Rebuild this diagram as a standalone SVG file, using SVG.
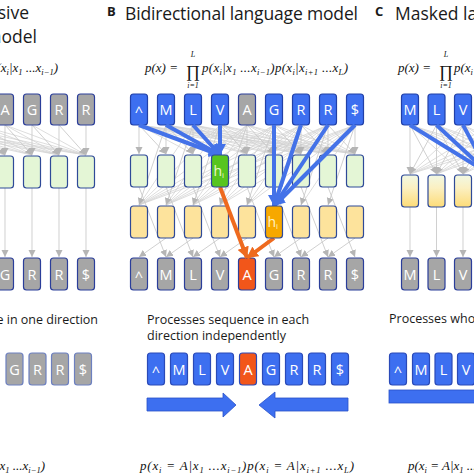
<svg xmlns="http://www.w3.org/2000/svg" width="474" height="474" viewBox="0 0 474 474">
<defs>
<style>
.g{stroke:#d2d2d2;stroke-width:0.75;fill:none}
.ga{stroke:#c8c8c8;stroke-width:0.85;fill:none;marker-end:url(#ag)}
.bl{stroke:#4472e8;stroke-width:4;fill:none;marker-end:url(#ab)}
.bln{stroke:#4472e8;stroke-width:4;fill:none}
.or{stroke:#ee6a1f;stroke-width:4;fill:none;marker-end:url(#ao)}
.tb{fill:#3d6ff0;stroke:#2140a8;stroke-width:1.2}
.tg{fill:#a6a6a6;stroke:#2b3e9a;stroke-width:1.2}
.tgl{fill:#a6a6a6;stroke:#6d80c0;stroke-width:1.2}
.tbb{fill:#3d6ff0;stroke:#2a4ab8;stroke-width:1.2}
.h1{fill:#e4f6d6;stroke:#2f4a98;stroke-width:1.2}
.h2{fill:#fde39c;stroke:#2f4a98;stroke-width:1.2}
.hc{fill:url(#yg);stroke:#2f4a98;stroke-width:1.2}
.t{font-family:'Open Sans',sans-serif;font-size:14.5px;fill:#fff;text-anchor:middle}
.ti{font-family:'Open Sans',sans-serif;font-size:17.5px;fill:#1a1a1a}
.tl{font-family:'Open Sans',sans-serif;font-size:13px;font-weight:bold;fill:#1a1a1a}
.tx{font-family:'Open Sans',sans-serif;font-size:12.5px;fill:#1a1a1a}
.f{font-family:'Liberation Serif',serif;font-size:13px;font-style:italic;fill:#111}
.s{font-size:8.5px}
.pr{font-family:'Liberation Serif',serif;font-size:17px;fill:#111;text-anchor:middle}
.lim{font-family:'Liberation Serif',serif;font-size:8px;font-style:italic;fill:#111;text-anchor:middle}
.hl{font-family:'Open Sans',sans-serif;font-size:14px}
</style>
<marker id="ag" markerUnits="userSpaceOnUse" markerWidth="8" markerHeight="8" refX="7" refY="4" orient="auto"><path d="M0,0.5 L7,4 L0,7.5z" fill="#b5b5b5"/></marker>
<marker id="ab" markerUnits="userSpaceOnUse" markerWidth="12" markerHeight="12" refX="11" refY="6" orient="auto"><path d="M0,0 L11,6 L0,12z" fill="#4472e8"/></marker>
<marker id="ao" markerUnits="userSpaceOnUse" markerWidth="12" markerHeight="12" refX="11" refY="6" orient="auto"><path d="M0,0 L11,6 L0,12z" fill="#ee6a1f"/></marker>
<linearGradient id="yg" x1="0" y1="0" x2="0" y2="1"><stop offset="0" stop-color="#f1f8e4"/><stop offset="0.4" stop-color="#fbf0c2"/><stop offset="1" stop-color="#fddc78"/></linearGradient>
</defs>
<rect width="474" height="474" fill="#fff"/>

<!-- Titles and texts -->
<text class="ti" x="29" y="19" text-anchor="end">Autoregressive</text>
<text class="ti" x="37" y="43" text-anchor="end">language model</text>
<text class="tl" x="107" y="16">B</text>
<text class="ti" x="125" y="19.5" textLength="233">Bidirectional language model</text>
<text class="tl" x="375" y="16">C</text>
<text class="ti" x="395" y="19.5">Masked language model</text>

<text class="tx" x="98" y="324" text-anchor="end">Processes sequence in one direction</text>
<text class="tx" x="147" y="324">Processes sequence in each</text>
<text class="tx" x="147" y="340">direction independently</text>
<text class="tx" x="389" y="323">Processes whole sequence</text>

<!-- Formulas -->
<text class="f" x="58" y="72" text-anchor="end">p(x<tspan class="s" dy="3">i</tspan><tspan dy="-3">|x</tspan><tspan class="s" dy="3">1</tspan><tspan dy="-3"> ...x</tspan><tspan class="s" dy="3">i−1</tspan><tspan dy="-3">)</tspan></text>

<text class="f" x="145" y="72">p(x) =</text>
<text class="pr" x="193" y="77">∏</text>
<text class="lim" x="193" y="57">L</text>
<text class="lim" x="193" y="88">i=1</text>
<text class="f" x="202" y="72" textLength="146">p(x<tspan class="s" dy="3">i</tspan><tspan dy="-3">|x</tspan><tspan class="s" dy="3">1</tspan><tspan dy="-3"> ...x</tspan><tspan class="s" dy="3">i−1</tspan><tspan dy="-3">)p(x</tspan><tspan class="s" dy="3">i</tspan><tspan dy="-3">|x</tspan><tspan class="s" dy="3">i+1</tspan><tspan dy="-3"> ...x</tspan><tspan class="s" dy="3">L</tspan><tspan dy="-3">)</tspan></text>

<text class="f" x="398" y="72">p(x) =</text>
<text class="pr" x="446" y="77">∏</text>
<text class="lim" x="446" y="57">L</text>
<text class="lim" x="446" y="88">i=1</text>
<text class="f" x="454" y="72">p(x<tspan class="s" dy="3">i</tspan><tspan dy="-3">|x</tspan><tspan class="s" dy="3">1</tspan><tspan dy="-3"> ...x</tspan><tspan class="s" dy="3">i−1</tspan><tspan dy="-3">, x</tspan><tspan class="s" dy="3">i+1</tspan><tspan dy="-3"> ...x</tspan><tspan class="s" dy="3">L</tspan><tspan dy="-3">)</tspan></text>

<text class="f" x="45" y="470" text-anchor="end">p(x<tspan class="s" dy="3">i</tspan><tspan dy="-3"> = A|x</tspan><tspan class="s" dy="3">1</tspan><tspan dy="-3"> ...x</tspan><tspan class="s" dy="3">i−1</tspan><tspan dy="-3">)</tspan></text>
<text class="f" x="140" y="470" textLength="214">p(x<tspan class="s" dy="3">i</tspan><tspan dy="-3"> = A|x</tspan><tspan class="s" dy="3">1</tspan><tspan dy="-3"> ...x</tspan><tspan class="s" dy="3">i−1</tspan><tspan dy="-3">)p(x</tspan><tspan class="s" dy="3">i</tspan><tspan dy="-3"> = A|x</tspan><tspan class="s" dy="3">i+1</tspan><tspan dy="-3"> ...x</tspan><tspan class="s" dy="3">L</tspan><tspan dy="-3">)</tspan></text>
<text class="f" x="408" y="470">p(x<tspan class="s" dy="3">i</tspan><tspan dy="-3"> = A|x</tspan><tspan class="s" dy="3">1</tspan><tspan dy="-3"> ...x</tspan><tspan class="s" dy="3">i−1</tspan><tspan dy="-3">, x</tspan><tspan class="s" dy="3">i+1</tspan><tspan dy="-3"> ...x</tspan><tspan class="s" dy="3">L</tspan><tspan dy="-3">)</tspan></text>

<!-- Gray connectors -->
<g id="connectors">
<path class="g" d="M-103 125L5 155M-76 125L5 155M-49 125L5 155M-103 125L32 155M-76 125L32 155M-49 125L32 155M-22 125L32 155M-103 125L59 155M-76 125L59 155M-49 125L59 155M-22 125L59 155M5 125L59 155M-103 125L86 155M-76 125L86 155M-49 125L86 155M-22 125L86 155M5 125L86 155M32 125L86 155"/>
<line class="ga" x1="5" y1="125" x2="5" y2="155"/><line class="ga" x1="32" y1="125" x2="32" y2="155"/><line class="ga" x1="59" y1="125" x2="59" y2="155"/><line class="ga" x1="86" y1="125" x2="86" y2="155"/>
<line class="ga" x1="-22" y1="125" x2="5" y2="155"/><line class="ga" x1="5" y1="125" x2="32" y2="155"/><line class="ga" x1="32" y1="125" x2="59" y2="155"/><line class="ga" x1="59" y1="125" x2="86" y2="155"/>
<line class="ga" x1="5" y1="188" x2="5" y2="257"/><line class="ga" x1="32" y1="188" x2="32" y2="257"/><line class="ga" x1="59" y1="188" x2="59" y2="257"/><line class="ga" x1="86" y1="188" x2="86" y2="257"/>

<path class="g" d="M139 125L193 154M139 125L220 154M166 125L220 154M139 125L247 154M166 125L247 154M193 125L247 154M139 125L274 154M166 125L274 154M193 125L274 154M220 125L274 154M139 125L301 154M166 125L301 154M193 125L301 154M220 125L301 154M247 125L301 154M139 125L328 154M166 125L328 154M193 125L328 154M220 125L328 154M247 125L328 154M274 125L328 154M139 125L355 154M166 125L355 154M193 125L355 154M220 125L355 154M247 125L355 154M274 125L355 154M301 125L355 154"/>
<path class="g" d="M193 125L139 205M220 125L139 205M247 125L139 205M274 125L139 205M301 125L139 205M328 125L139 205M355 125L139 205M220 125L166 205M247 125L166 205M274 125L166 205M301 125L166 205M328 125L166 205M355 125L166 205M247 125L193 205M274 125L193 205M301 125L193 205M328 125L193 205M355 125L193 205M274 125L220 205M301 125L220 205M328 125L220 205M355 125L220 205M301 125L247 205M328 125L247 205M355 125L247 205M328 125L274 205M355 125L274 205M355 125L301 205"/>
<line class="ga" x1="139" y1="125" x2="139" y2="154"/><line class="ga" x1="166" y1="125" x2="166" y2="154"/><line class="ga" x1="193" y1="125" x2="193" y2="154"/><line class="ga" x1="220" y1="125" x2="220" y2="154"/><line class="ga" x1="247" y1="125" x2="247" y2="154"/><line class="ga" x1="274" y1="125" x2="274" y2="154"/><line class="ga" x1="301" y1="125" x2="301" y2="154"/><line class="ga" x1="328" y1="125" x2="328" y2="154"/><line class="ga" x1="355" y1="125" x2="355" y2="154"/>
<line class="ga" x1="139" y1="125" x2="166" y2="154"/><line class="ga" x1="166" y1="125" x2="193" y2="154"/><line class="ga" x1="193" y1="125" x2="220" y2="154"/><line class="ga" x1="220" y1="125" x2="247" y2="154"/><line class="ga" x1="247" y1="125" x2="274" y2="154"/><line class="ga" x1="274" y1="125" x2="301" y2="154"/><line class="ga" x1="301" y1="125" x2="328" y2="154"/><line class="ga" x1="328" y1="125" x2="355" y2="154"/>
<line class="ga" x1="166" y1="125" x2="139" y2="205"/><line class="ga" x1="193" y1="125" x2="166" y2="205"/><line class="ga" x1="220" y1="125" x2="193" y2="205"/><line class="ga" x1="247" y1="125" x2="220" y2="205"/><line class="ga" x1="274" y1="125" x2="247" y2="205"/><line class="ga" x1="301" y1="125" x2="274" y2="205"/><line class="ga" x1="328" y1="125" x2="301" y2="205"/><line class="ga" x1="355" y1="125" x2="328" y2="205"/>
<line class="ga" x1="139" y1="187" x2="166" y2="257"/><line class="ga" x1="166" y1="187" x2="193" y2="257"/><line class="ga" x1="193" y1="187" x2="220" y2="257"/><line class="ga" x1="220" y1="187" x2="247" y2="257"/><line class="ga" x1="247" y1="187" x2="274" y2="257"/><line class="ga" x1="274" y1="187" x2="301" y2="257"/><line class="ga" x1="301" y1="187" x2="328" y2="257"/><line class="ga" x1="328" y1="187" x2="355" y2="257"/>
<line class="ga" x1="166" y1="238" x2="139" y2="257"/><line class="ga" x1="193" y1="238" x2="166" y2="257"/><line class="ga" x1="220" y1="238" x2="193" y2="257"/><line class="ga" x1="247" y1="238" x2="220" y2="257"/><line class="ga" x1="274" y1="238" x2="247" y2="257"/><line class="ga" x1="301" y1="238" x2="274" y2="257"/><line class="ga" x1="328" y1="238" x2="301" y2="257"/><line class="ga" x1="355" y1="238" x2="328" y2="257"/>

<path class="g" d="M463 125L410 174M489.5 125L410 174M516 125L410 174M542.5 125L410 174M569 125L410 174M489.5 125L436.5 174M516 125L436.5 174M542.5 125L436.5 174M569 125L436.5 174M410 125L463 174M516 125L463 174M542.5 125L463 174M569 125L463 174M410 125L516 174M410 125L542.5 174M410 125L569 174M436.5 125L516 174M436.5 125L542.5 174M436.5 125L569 174M463 125L516 174M463 125L542.5 174M463 125L569 174"/>
<line class="ga" x1="410" y1="125" x2="410" y2="174"/><line class="ga" x1="436.5" y1="125" x2="436.5" y2="174"/><line class="ga" x1="463" y1="125" x2="463" y2="174"/>
<line class="ga" x1="436.5" y1="125" x2="410" y2="174"/><line class="ga" x1="410" y1="125" x2="436.5" y2="174"/><line class="ga" x1="463" y1="125" x2="436.5" y2="174"/><line class="ga" x1="436.5" y1="125" x2="463" y2="174"/><line class="ga" x1="489.5" y1="125" x2="463" y2="174"/>
<line class="ga" x1="410" y1="207" x2="410" y2="257"/><line class="ga" x1="436.5" y1="207" x2="436.5" y2="257"/><line class="ga" x1="463" y1="207" x2="463" y2="257"/>
</g>

<!-- Panel A nodes -->
<g id="a-in-A"><rect class="tg" x="-3.5" y="94" width="17" height="31" rx="3"/><text class="t" x="5" y="115">A</text></g>
<g id="a-in-G"><rect class="tg" x="23.5" y="94" width="17" height="31" rx="3"/><text class="t" x="32" y="115">G</text></g>
<g id="a-in-R1"><rect class="tg" x="50.5" y="94" width="17" height="31" rx="3"/><text class="t" x="59" y="115">R</text></g>
<g id="a-in-R2"><rect class="tg" x="77.5" y="94" width="17" height="31" rx="3"/><text class="t" x="86" y="115">R</text></g>
<g id="a-h1"><rect class="h1" x="-3.5" y="156" width="17" height="32" rx="3"/></g>
<g id="a-h2"><rect class="h1" x="23.5" y="156" width="17" height="32" rx="3"/></g>
<g id="a-h3"><rect class="h1" x="50.5" y="156" width="17" height="32" rx="3"/></g>
<g id="a-h4"><rect class="h1" x="77.5" y="156" width="17" height="32" rx="3"/></g>
<g id="a-out-G"><rect class="tg" x="-3.5" y="258" width="17" height="32" rx="3"/><text class="t" x="5" y="279.5">G</text></g>
<g id="a-out-R1"><rect class="tg" x="23.5" y="258" width="17" height="32" rx="3"/><text class="t" x="32" y="279.5">R</text></g>
<g id="a-out-R2"><rect class="tg" x="50.5" y="258" width="17" height="32" rx="3"/><text class="t" x="59" y="279.5">R</text></g>
<g id="a-out-end"><rect class="tg" x="77.5" y="258" width="17" height="32" rx="3"/><text class="t" x="86" y="279.5">$</text></g>
<g id="a-seq-G"><rect class="tgl" x="6" y="353" width="17" height="32" rx="3"/><text class="t" x="14.5" y="374.5">G</text></g>
<g id="a-seq-R1"><rect class="tgl" x="29" y="353" width="17" height="32" rx="3"/><text class="t" x="37.5" y="374.5">R</text></g>
<g id="a-seq-R2"><rect class="tgl" x="51.5" y="353" width="17" height="32" rx="3"/><text class="t" x="60" y="374.5">R</text></g>
<g id="a-seq-end"><rect class="tgl" x="74.5" y="353" width="17" height="32" rx="3"/><text class="t" x="83" y="374.5">$</text></g>

<!-- Panel B nodes: inputs -->
<g id="b-in-start"><rect class="tb" x="130.5" y="94" width="17" height="31" rx="3"/><text class="t" x="139" y="117">^</text></g>
<g id="b-in-M"><rect class="tb" x="157.5" y="94" width="17" height="31" rx="3"/><text class="t" x="166" y="115">M</text></g>
<g id="b-in-L"><rect class="tb" x="184.5" y="94" width="17" height="31" rx="3"/><text class="t" x="193" y="115">L</text></g>
<g id="b-in-V"><rect class="tb" x="211.5" y="94" width="17" height="31" rx="3"/><text class="t" x="220" y="115">V</text></g>
<g id="b-in-A"><rect class="tg" x="238.5" y="94" width="17" height="31" rx="3"/><text class="t" x="247" y="115">A</text></g>
<g id="b-in-G"><rect class="tb" x="265.5" y="94" width="17" height="31" rx="3"/><text class="t" x="274" y="115">G</text></g>
<g id="b-in-R1"><rect class="tb" x="292.5" y="94" width="17" height="31" rx="3"/><text class="t" x="301" y="115">R</text></g>
<g id="b-in-R2"><rect class="tb" x="319.5" y="94" width="17" height="31" rx="3"/><text class="t" x="328" y="115">R</text></g>
<g id="b-in-end"><rect class="tb" x="346.5" y="94" width="17" height="31" rx="3"/><text class="t" x="355" y="115">$</text></g>
<!-- forward hidden -->
<g id="b-f1"><rect class="h1" x="130.5" y="155" width="17" height="32" rx="3"/></g>
<g id="b-f2"><rect class="h1" x="157.5" y="155" width="17" height="32" rx="3"/></g>
<g id="b-f3"><rect class="h1" x="184.5" y="155" width="17" height="32" rx="3"/></g>
<g id="b-f5"><rect class="h1" x="238.5" y="155" width="17" height="32" rx="3"/></g>
<g id="b-f6"><rect class="h1" x="265.5" y="155" width="17" height="32" rx="3"/></g>
<g id="b-f7"><rect class="h1" x="292.5" y="155" width="17" height="32" rx="3"/></g>
<g id="b-f8"><rect class="h1" x="319.5" y="155" width="17" height="32" rx="3"/></g>
<g id="b-f9"><rect class="h1" x="346.5" y="155" width="17" height="32" rx="3"/></g>
<!-- backward hidden -->
<g id="b-b1"><rect class="h2" x="130.5" y="206" width="17" height="32" rx="3"/></g>
<g id="b-b2"><rect class="h2" x="157.5" y="206" width="17" height="32" rx="3"/></g>
<g id="b-b3"><rect class="h2" x="184.5" y="206" width="17" height="32" rx="3"/></g>
<g id="b-b4"><rect class="h2" x="211.5" y="206" width="17" height="32" rx="3"/></g>
<g id="b-b5"><rect class="h2" x="238.5" y="206" width="17" height="32" rx="3"/></g>
<g id="b-b7"><rect class="h2" x="292.5" y="206" width="17" height="32" rx="3"/></g>
<g id="b-b8"><rect class="h2" x="319.5" y="206" width="17" height="32" rx="3"/></g>
<g id="b-b9"><rect class="h2" x="346.5" y="206" width="17" height="32" rx="3"/></g>
<!-- outputs -->
<g id="b-out-start"><rect class="tg" x="130.5" y="258" width="17" height="32" rx="3"/><text class="t" x="139" y="281.5">^</text></g>
<g id="b-out-M"><rect class="tg" x="157.5" y="258" width="17" height="32" rx="3"/><text class="t" x="166" y="279.5">M</text></g>
<g id="b-out-L"><rect class="tg" x="184.5" y="258" width="17" height="32" rx="3"/><text class="t" x="193" y="279.5">L</text></g>
<g id="b-out-V"><rect class="tg" x="211.5" y="258" width="17" height="32" rx="3"/><text class="t" x="220" y="279.5">V</text></g>
<g id="b-out-A"><rect x="238.5" y="258" width="17" height="32" rx="3" fill="#f2561a" stroke="#2b3e9a" stroke-width="1.2"/><text class="t" x="247" y="279.5">A</text></g>
<g id="b-out-G"><rect class="tg" x="265.5" y="258" width="17" height="32" rx="3"/><text class="t" x="274" y="279.5">G</text></g>
<g id="b-out-R1"><rect class="tg" x="292.5" y="258" width="17" height="32" rx="3"/><text class="t" x="301" y="279.5">R</text></g>
<g id="b-out-R2"><rect class="tg" x="319.5" y="258" width="17" height="32" rx="3"/><text class="t" x="328" y="279.5">R</text></g>
<g id="b-out-end"><rect class="tg" x="346.5" y="258" width="17" height="32" rx="3"/><text class="t" x="355" y="279.5">$</text></g>
<!-- bottom sequence B -->
<g id="b-seq-start"><rect class="tbb" x="147.5" y="353" width="17" height="32" rx="3"/><text class="t" x="156" y="376.5">^</text></g>
<g id="b-seq-M"><rect class="tbb" x="170.5" y="353" width="17" height="32" rx="3"/><text class="t" x="179" y="374.5">M</text></g>
<g id="b-seq-L"><rect class="tbb" x="193.5" y="353" width="17" height="32" rx="3"/><text class="t" x="202" y="374.5">L</text></g>
<g id="b-seq-V"><rect class="tbb" x="216.5" y="353" width="17" height="32" rx="3"/><text class="t" x="225" y="374.5">V</text></g>
<g id="b-seq-A"><rect x="239.5" y="353" width="17" height="32" rx="3" fill="#f2561a" stroke="#2a4ab8" stroke-width="1.2"/><text class="t" x="248" y="374.5">A</text></g>
<g id="b-seq-G"><rect class="tbb" x="262.5" y="353" width="17" height="32" rx="3"/><text class="t" x="271" y="374.5">G</text></g>
<g id="b-seq-R1"><rect class="tbb" x="285.5" y="353" width="17" height="32" rx="3"/><text class="t" x="294" y="374.5">R</text></g>
<g id="b-seq-R2"><rect class="tbb" x="308.5" y="353" width="17" height="32" rx="3"/><text class="t" x="317" y="374.5">R</text></g>
<g id="b-seq-end"><rect class="tbb" x="331.5" y="353" width="17" height="32" rx="3"/><text class="t" x="340" y="374.5">$</text></g>
<g id="b-arrow-right"><polygon points="147,398 223,398 223,393 236,405 223,417 223,411 147,411" fill="#3d6ff0" stroke="#2a52c8" stroke-width="0.8"/></g>
<g id="b-arrow-left"><polygon points="259,405 275,392 275,398 348,398 348,411 275,411 275,418" fill="#3d6ff0" stroke="#2a52c8" stroke-width="0.8"/></g>

<!-- Panel C nodes -->
<g id="c-in-M"><rect class="tb" x="401.5" y="94" width="17" height="31" rx="3"/><text class="t" x="410" y="115">M</text></g>
<g id="c-in-L"><rect class="tb" x="428" y="94" width="17" height="31" rx="3"/><text class="t" x="436.5" y="115">L</text></g>
<g id="c-in-V"><rect class="tb" x="454.5" y="94" width="17" height="31" rx="3"/><text class="t" x="463" y="115">V</text></g>
<g id="c-h1"><rect class="hc" x="401.5" y="175" width="17" height="32" rx="3"/></g>
<g id="c-h2"><rect class="hc" x="428" y="175" width="17" height="32" rx="3"/></g>
<g id="c-h3"><rect class="hc" x="454.5" y="175" width="17" height="32" rx="3"/></g>
<g id="c-out-M"><rect class="tg" x="401.5" y="258" width="17" height="32" rx="3"/><text class="t" x="410" y="279.5">M</text></g>
<g id="c-out-L"><rect class="tg" x="428" y="258" width="17" height="32" rx="3"/><text class="t" x="436.5" y="279.5">L</text></g>
<g id="c-out-V"><rect class="tg" x="454.5" y="258" width="17" height="32" rx="3"/><text class="t" x="463" y="279.5">V</text></g>
<g id="c-seq-start"><rect class="tbb" x="389.5" y="353" width="17" height="32" rx="3"/><text class="t" x="398" y="376.5">^</text></g>
<g id="c-seq-M"><rect class="tbb" x="412.5" y="353" width="17" height="32" rx="3"/><text class="t" x="421" y="374.5">M</text></g>
<g id="c-seq-L"><rect class="tbb" x="435" y="353" width="17" height="32" rx="3"/><text class="t" x="443.5" y="374.5">L</text></g>
<g id="c-seq-V"><rect class="tbb" x="457.5" y="353" width="17" height="32" rx="3"/><text class="t" x="466" y="374.5">V</text></g>
<g id="c-bar"><rect x="389" y="390" width="100" height="13" fill="#3d6ff0" stroke="#2a52c8" stroke-width="0.8"/></g>

<!-- Highlighted connectors -->
<g id="highlight-connectors">
<line class="bl" x1="139" y1="125" x2="220" y2="155"/>
<line class="bl" x1="166" y1="125" x2="220" y2="155"/>
<line class="bl" x1="193" y1="125" x2="220" y2="155"/>
<line class="bl" x1="220" y1="125" x2="220" y2="155"/>
<line class="bl" x1="274" y1="125" x2="274" y2="206"/>
<line class="bl" x1="301" y1="125" x2="274" y2="206"/>
<line class="bl" x1="328" y1="125" x2="274" y2="206"/>
<line class="bl" x1="355" y1="125" x2="274" y2="206"/>
<line class="or" x1="220" y1="187" x2="247" y2="258"/>
<line class="or" x1="274" y1="238" x2="247" y2="258"/>
<line class="bln" x1="410" y1="125" x2="489.5" y2="174"/>
<line class="bln" x1="436.5" y1="125" x2="489.5" y2="174"/>
<line class="bln" x1="463" y1="125" x2="489.5" y2="174"/>
</g>

<!-- Highlighted hidden states -->
<g id="b-hi-forward"><rect x="211.5" y="155" width="17" height="32" rx="3" fill="#57c51f" stroke="#2f4a98" stroke-width="1.2"/><text class="hl" x="213.5" y="176" fill="#eef6d0">h<tspan font-size="8" dy="2">i</tspan></text></g>
<g id="b-hi-backward"><rect x="265.5" y="206" width="17" height="32" rx="3" fill="#f7a800" stroke="#2f4a98" stroke-width="1.2"/><text class="hl" x="267.5" y="227" fill="#fff4c8">h<tspan font-size="8" dy="2">i</tspan></text></g>
</svg>
